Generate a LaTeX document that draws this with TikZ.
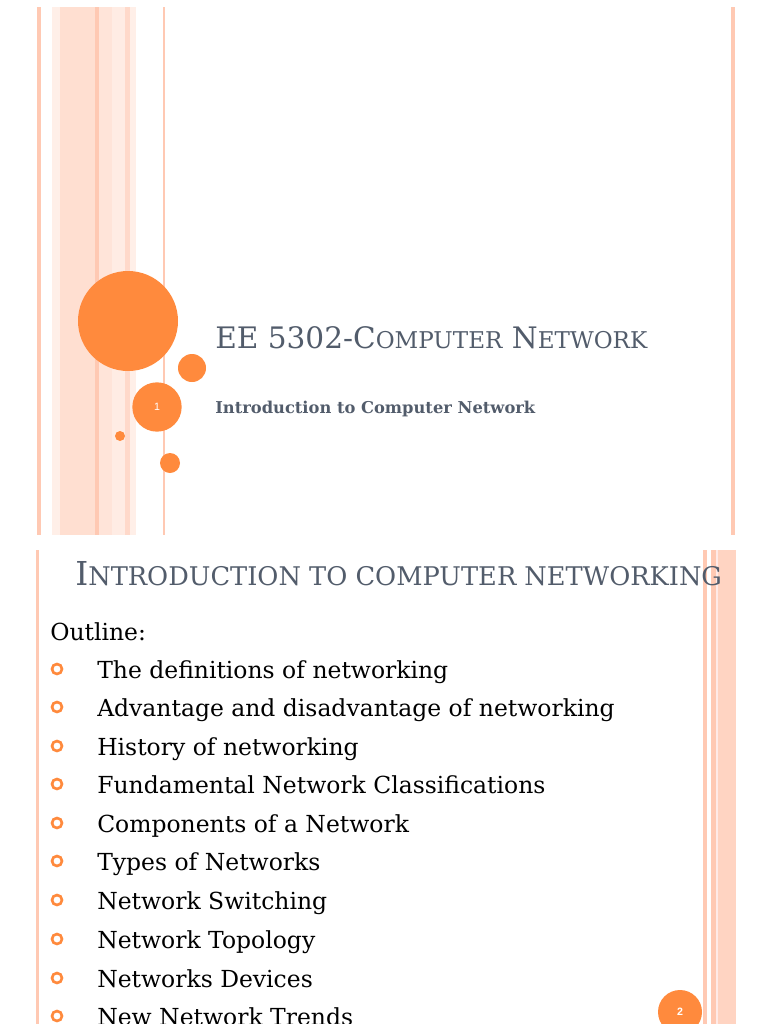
\documentclass[tikz,border=0pt]{standalone}
\usepackage{fontspec}
\setmainfont{DejaVu Serif}
\newfontfamily\sansf{Liberation Sans}
\definecolor{org}{HTML}{FF8A3D}
\definecolor{strp}{HTML}{FFC9B3}
\definecolor{ttl}{HTML}{525C6B}
\newcommand{\smc}[1]{{\fontsize{0.78em}{1em}\selectfont #1}}
\begin{document}
\begin{tikzpicture}[x=0.75pt,y=-0.75pt,
  st/.style={fill=strp,draw=none},
  dot/.style={circle,fill=org,draw=none,inner sep=0pt},
  bul/.style={circle,draw=org,line width=2pt,minimum size=7.5pt,inner sep=0pt},
  item/.style={anchor=base west,inner sep=0pt,font=\fontsize{17.6}{20}\selectfont}]
\useasboundingbox (0,0) rectangle (768,1024);
% slide 1 stripes
\fill[st] (37,7) rectangle (41,535);
\fill[st,opacity=0.3] (52,7) rectangle (60,535);
\fill[st,opacity=0.6] (60,7) rectangle (95,535);
\fill[st] (95,7) rectangle (99,535);
\fill[st,opacity=0.5] (99,7) rectangle (112,535);
\fill[st,opacity=0.35] (112,7) rectangle (125,535);
\fill[st,opacity=0.7] (125,7) rectangle (130,535);
\fill[st,opacity=0.3] (130,7) rectangle (136,535);
\fill[st] (163,7) rectangle (165,535);
\fill[st] (731,7) rectangle (735,535);
% slide 2 stripes
\fill[st] (36,550) rectangle (39,1024);
\fill[st] (703,550) rectangle (707,1024);
\fill[st] (711,550) rectangle (716,1024);
\fill[strp!130!org!60] (716,550) rectangle (718,1024);
\fill[st,opacity=0.8] (718,550) rectangle (736,1024);
% slide 1 circles
\node[dot,minimum size=75pt] (c1) at (128,321) {};
\node[dot,minimum size=21pt] (c2) at (192,368) {};
\node[dot,minimum size=37pt] (c3) at (157,407) {\color{white}\sansf\fontsize{8}{9}\selectfont 1};
\node[dot,minimum size=7.5pt] (c4) at (120,436) {};
\node[dot,minimum size=15pt] (c5) at (170,463) {};
\node[anchor=base west,inner sep=0pt,text=ttl] (t1) at (215,348) {\resizebox{324pt}{!}{\fontsize{20}{24}\selectfont EE 5302-C\smc{OMPUTER} N\smc{ETWORK}}};
\node[anchor=base west,inner sep=0pt,text=ttl] (t2) at (215,413) {\resizebox{240pt}{!}{\fontsize{11}{13}\selectfont\bfseries Introduction to Computer Network}};
% slide 2
\node[anchor=base west,inner sep=0pt,text=ttl] (t3) at (75,585) {\resizebox{485pt}{!}{\fontsize{20}{26}\selectfont I\smc{NTRODUCTION TO COMPUTER NETWORKING}}};
\node[item] (o) at (50,640) {Outline:};
\foreach \y/\t [count=\i] in {678/The definitions of networking,716/Advantage and disadvantage of networking,755/History of networking,793/Fundamental Network Classifications,832/Components of a Network,870/Types of Networks,909/Network Switching,948/Network Topology,987/Networks Devices,1025/New Network Trends}{
  \node[bul] (b\i) at (57,\y-9) {};
  \node[item] (i\i) at (97,\y) {\t};
}
\node[dot,minimum size=33pt] (c6) at (680,1012) {\color{white}\sansf\bfseries\fontsize{8}{9}\selectfont 2};
\end{tikzpicture}
\end{document}
